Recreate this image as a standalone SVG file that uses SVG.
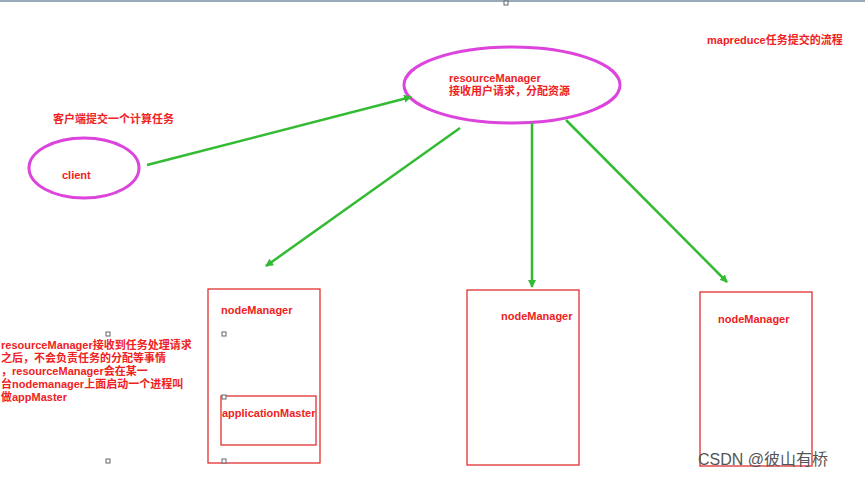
<svg xmlns="http://www.w3.org/2000/svg" width="865" height="477" viewBox="0 0 865 477">
<style>
.t{font-family:"Liberation Sans","Noto Sans CJK SC",sans-serif;font-weight:bold;fill:#ee2222;font-size:11px}
.e{fill:none;stroke:#dd44dd;stroke-width:3}
.b{fill:none;stroke:#e03030;stroke-width:1.3}
.c{stroke:#33bb33;stroke-width:2.5;fill:none;marker-end:url(#a)}
.h{fill:#fff;stroke:#666;stroke-width:1}
</style>
<defs><marker id="a" markerWidth="8" markerHeight="8" refX="7" refY="4" orient="auto" markerUnits="userSpaceOnUse"><path d="M0,0 L8,4 L0,8z" fill="#33bb33"/></marker></defs>
<rect width="865" height="477" fill="#fff"/>
<line x1="0" y1="1" x2="865" y2="1" stroke="#99aabb" stroke-width="2"/>
<rect x="504" y="1" width="4" height="4" class="h"/>
<text class="t" x="707" y="44">mapreduce任务提交的流程</text>
<text class="t" x="53" y="123">客户端提交一个计算任务</text>
<g id="client"><ellipse class="e" cx="84" cy="168" rx="55" ry="30"/><text class="t" x="62" y="179">client</text></g>
<g id="rm"><ellipse class="e" cx="512" cy="85" rx="108" ry="38"/><text class="t" x="449" y="82">resourceManager</text><text class="t" x="449" y="95" font-weight="normal">接收用户请求，分配资源</text></g>
<g id="nm1"><rect class="b" x="208" y="289" width="112" height="174"/><text class="t" x="221" y="314">nodeManager</text>
<rect class="b" x="221" y="396" width="95" height="49"/><text class="t" x="222" y="417">applicationMaster</text></g>
<g id="nm2"><rect class="b" x="467" y="290" width="112" height="175"/><text class="t" x="501" y="320">nodeManager</text></g>
<g id="nm3"><rect class="b" x="700" y="292" width="112" height="174"/><text class="t" x="718" y="323">nodeManager</text></g>
<g id="connectors">
<line class="c" x1="147" y1="165" x2="411" y2="97"/>
<line class="c" x1="460" y1="128" x2="266" y2="266"/>
<line class="c" x1="532" y1="123" x2="532" y2="287"/>
<line class="c" x1="566" y1="120" x2="727" y2="282"/>
</g>
<text class="t" x="1" y="349">resourceManager接收到任务处理请求</text>
<text class="t" x="1" y="362">之后，不会负责任务的分配等事情</text>
<text class="t" x="1" y="375">，resourceManager会在某一</text>
<text class="t" x="1" y="388">台nodemanager上面启动一个进程叫</text>
<text class="t" x="1" y="401">做appMaster</text>
<g><rect x="106" y="332" width="4" height="4" class="h"/><rect x="106" y="459" width="4" height="4" class="h"/><rect x="222" y="332" width="4" height="4" class="h"/><rect x="222" y="395" width="4" height="4" class="h"/><rect x="222" y="459" width="4" height="4" class="h"/></g>
<text x="698" y="465" font-family="Liberation Sans,Noto Sans CJK SC,sans-serif" font-size="16" fill="#555">CSDN @彼山有桥</text>
</svg>
